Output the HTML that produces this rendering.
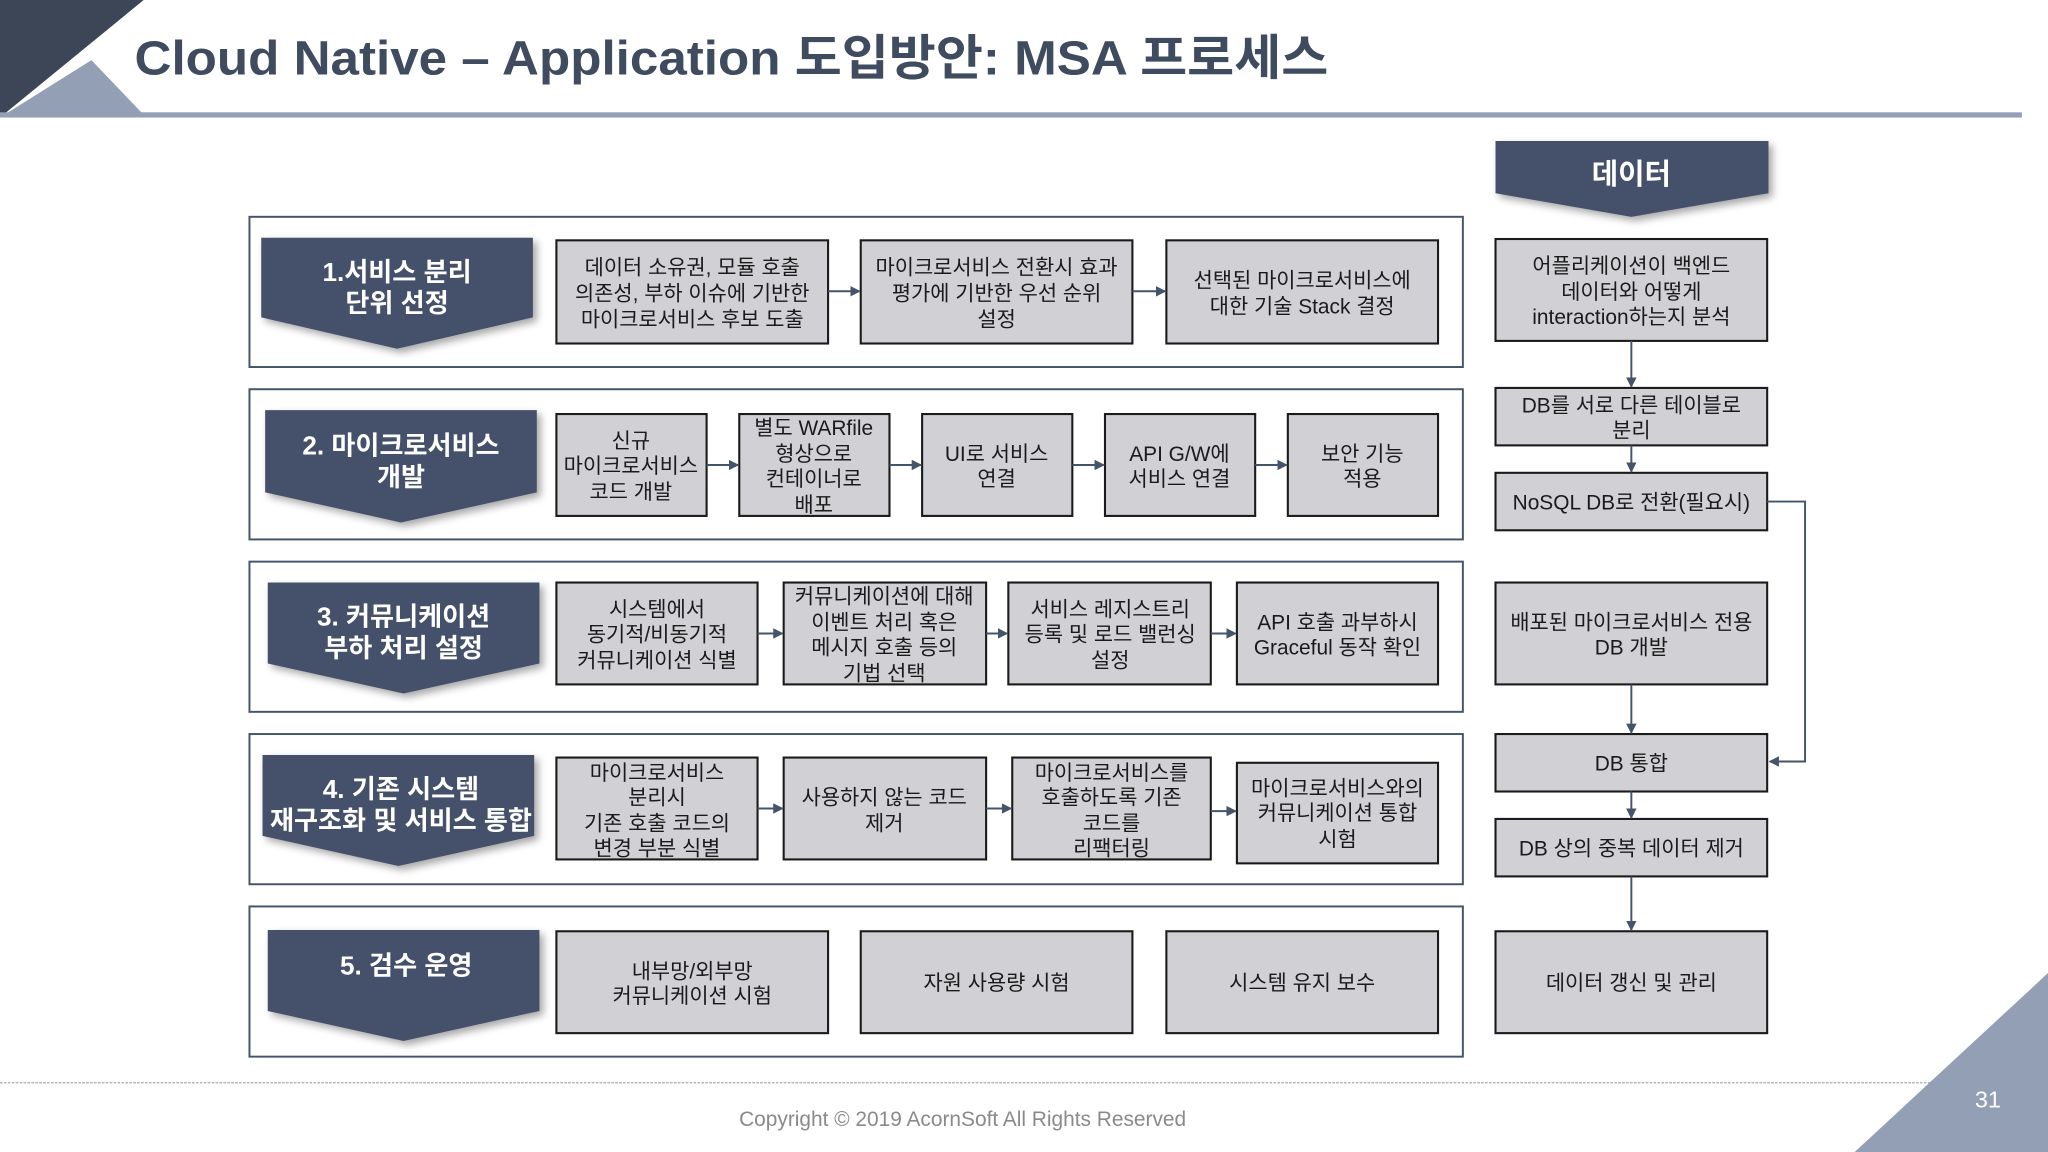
<!DOCTYPE html>
<html><head><meta charset="utf-8"><style>
html,body{margin:0;padding:0;background:#fff;width:2048px;height:1152px;overflow:hidden}
svg text{font-family:"Liberation Sans","Noto Sans CJK KR",sans-serif}
.b{fill:#d1d0d5;stroke:#1a1a1a;stroke-width:1.6}
.g{fill:#fff;stroke:#44546a;stroke-width:1.5}
.t{font-size:16px;fill:#1a1a1a;text-anchor:middle}
.h{font-size:20px;fill:#fff;font-weight:bold;text-anchor:middle}
.ar{stroke:#44546a;stroke-width:1.5;fill:none;marker-end:url(#a)}
.bn{fill:#44516a;filter:url(#s)}
</style></head><body>
<svg width="2048" height="1152" viewBox="0 0 1568 882" xmlns="http://www.w3.org/2000/svg">
<defs>
<marker id="a" markerWidth="8" markerHeight="8" refX="7" refY="4" orient="auto" markerUnits="userSpaceOnUse"><path d="M0,0 L8,4 L0,8z" fill="#44546a"/></marker>
<filter id="s" x="-10%" y="-10%" width="130%" height="140%"><feDropShadow dx="3" dy="3" stdDeviation="3" flood-color="#000" flood-opacity="0.35"/></filter>
</defs>
<polygon points="0,0 110,0 0,90" fill="#3d4656"/>
<polygon points="0,90 70,46 112,90" fill="#929fb5"/>
<rect x="0" y="86" width="1548" height="4" fill="#929fb5"/>
<text x="103" y="57" textLength="914" lengthAdjust="spacingAndGlyphs" style="font-size:37px;font-weight:bold;fill:#3f4b5f">Cloud Native – Application 도입방안: MSA 프로세스</text>

<!-- groups -->
<rect class="g" x="191" y="166" width="929" height="115"/>
<rect class="g" x="191" y="298" width="929" height="115"/>
<rect class="g" x="191" y="430" width="929" height="115"/>
<rect class="g" x="191" y="562" width="929" height="115"/>
<rect class="g" x="191" y="694" width="929" height="115"/>

<!-- banners -->
<polygon class="bn" points="200,182 408,182 408,243 304,267 200,243"/>
<text class="h"><tspan x="304" y="215">1.서비스 분리</tspan><tspan x="304" y="239">단위 선정</tspan></text>
<polygon class="bn" points="203,314 411,314 411,377 307,400 203,377"/>
<text class="h"><tspan x="307" y="348">2. 마이크로서비스</tspan><tspan x="307" y="372">개발</tspan></text>
<polygon class="bn" points="205,446 413,446 413,508 309,531 205,508"/>
<text class="h"><tspan x="309" y="479">3. 커뮤니케이션</tspan><tspan x="309" y="503">부하 처리 설정</tspan></text>
<polygon class="bn" points="201,578 409,578 409,640 305,663 201,640"/>
<text class="h"><tspan x="307" y="611">4. 기존 시스템</tspan><tspan x="307" y="635">재구조화 및 서비스 통합</tspan></text>
<polygon class="bn" points="205,712 413,712 413,774 309,797 205,774"/>
<text class="h"><tspan x="311" y="746">5. 검수 운영</tspan></text>

<!-- row1 -->
<rect class="b" x="426" y="184" width="208" height="79"/>
<text class="t"><tspan x="530" y="210">데이터 소유권, 모듈 호출</tspan><tspan x="530" y="230">의존성, 부하 이슈에 기반한</tspan><tspan x="530" y="250">마이크로서비스 후보 도출</tspan></text>
<rect class="b" x="659" y="184" width="208" height="79"/>
<text class="t"><tspan x="763" y="210">마이크로서비스 전환시 효과</tspan><tspan x="763" y="230">평가에 기반한 우선 순위</tspan><tspan x="763" y="250">설정</tspan></text>
<rect class="b" x="893" y="184" width="208" height="79"/>
<text class="t"><tspan x="997" y="220">선택된 마이크로서비스에</tspan><tspan x="997" y="240">대한 기술 Stack 결정</tspan></text>
<line class="ar" x1="634" y1="223" x2="658" y2="223"/>
<line class="ar" x1="867" y1="223" x2="892" y2="223"/>

<!-- row2 -->
<rect class="b" x="426" y="317" width="115" height="78"/>
<text class="t"><tspan x="483" y="343">신규</tspan><tspan x="483" y="362">마이크로서비스</tspan><tspan x="483" y="382">코드 개발</tspan></text>
<rect class="b" x="566" y="317" width="115" height="78"/>
<text class="t"><tspan x="623" y="333">별도 WARfile</tspan><tspan x="623" y="353">형상으로</tspan><tspan x="623" y="372">컨테이너로</tspan><tspan x="623" y="392">배포</tspan></text>
<rect class="b" x="706" y="317" width="115" height="78"/>
<text class="t"><tspan x="763" y="353">UI로 서비스</tspan><tspan x="763" y="372">연결</tspan></text>
<rect class="b" x="846" y="317" width="115" height="78"/>
<text class="t"><tspan x="903" y="353">API G/W에</tspan><tspan x="903" y="372">서비스 연결</tspan></text>
<rect class="b" x="986" y="317" width="115" height="78"/>
<text class="t"><tspan x="1043" y="353">보안 기능</tspan><tspan x="1043" y="372">적용</tspan></text>
<line class="ar" x1="541" y1="356" x2="565" y2="356"/>
<line class="ar" x1="681" y1="356" x2="705" y2="356"/>
<line class="ar" x1="821" y1="356" x2="845" y2="356"/>
<line class="ar" x1="961" y1="356" x2="985" y2="356"/>

<!-- row3 -->
<rect class="b" x="426" y="446" width="154" height="78"/>
<text class="t"><tspan x="503" y="472">시스템에서</tspan><tspan x="503" y="491">동기적/비동기적</tspan><tspan x="503" y="511">커뮤니케이션 식별</tspan></text>
<rect class="b" x="600" y="446" width="155" height="78"/>
<text class="t"><tspan x="677" y="462">커뮤니케이션에 대해</tspan><tspan x="677" y="482">이벤트 처리 혹은</tspan><tspan x="677" y="501">메시지 호출 등의</tspan><tspan x="677" y="521">기법 선택</tspan></text>
<rect class="b" x="772" y="446" width="155" height="78"/>
<text class="t"><tspan x="850" y="472">서비스 레지스트리</tspan><tspan x="850" y="491">등록 및 로드 밸런싱</tspan><tspan x="850" y="511">설정</tspan></text>
<rect class="b" x="947" y="446" width="154" height="78"/>
<text class="t"><tspan x="1024" y="482">API 호출 과부하시</tspan><tspan x="1024" y="501">Graceful 동작 확인</tspan></text>
<line class="ar" x1="580" y1="485" x2="599" y2="485"/>
<line class="ar" x1="755" y1="485" x2="771" y2="485"/>
<line class="ar" x1="927" y1="485" x2="946" y2="485"/>

<!-- row4 -->
<rect class="b" x="426" y="580" width="154" height="78"/>
<text class="t"><tspan x="503" y="597">마이크로서비스</tspan><tspan x="503" y="616">분리시</tspan><tspan x="503" y="636">기존 호출 코드의</tspan><tspan x="503" y="655">변경 부분 식별</tspan></text>
<rect class="b" x="600" y="580" width="155" height="78"/>
<text class="t"><tspan x="677" y="616">사용하지 않는 코드</tspan><tspan x="677" y="636">제거</tspan></text>
<rect class="b" x="775" y="580" width="152" height="78"/>
<text class="t"><tspan x="851" y="597">마이크로서비스를</tspan><tspan x="851" y="616">호출하도록 기존</tspan><tspan x="851" y="636">코드를</tspan><tspan x="851" y="655">리팩터링</tspan></text>
<rect class="b" x="947" y="584" width="154" height="77"/>
<text class="t"><tspan x="1024" y="609">마이크로서비스와의</tspan><tspan x="1024" y="628">커뮤니케이션 통합</tspan><tspan x="1024" y="648">시험</tspan></text>
<line class="ar" x1="580" y1="619" x2="599" y2="619"/>
<line class="ar" x1="755" y1="619" x2="774" y2="619"/>
<line class="ar" x1="927" y1="621" x2="946" y2="621"/>

<!-- row5 -->
<rect class="b" x="426" y="713" width="208" height="78"/>
<text class="t"><tspan x="530" y="749">내부망/외부망</tspan><tspan x="530" y="768">커뮤니케이션 시험</tspan></text>
<rect class="b" x="659" y="713" width="208" height="78"/>
<text class="t"><tspan x="763" y="758">자원 사용량 시험</tspan></text>
<rect class="b" x="893" y="713" width="208" height="78"/>
<text class="t"><tspan x="997" y="758">시스템 유지 보수</tspan></text>

<!-- right column -->
<polygon class="bn" points="1145,108 1354,108 1354,148 1249,166 1145,148"/>
<text class="h" x="1249" y="141" style="font-size:22px">데이터</text>
<rect class="b" x="1145" y="183" width="208" height="78"/>
<text class="t"><tspan x="1249" y="209">어플리케이션이 백엔드</tspan><tspan x="1249" y="229">데이터와 어떻게</tspan><tspan x="1249" y="248">interaction하는지 분석</tspan></text>
<rect class="b" x="1145" y="297" width="208" height="44"/>
<text class="t"><tspan x="1249" y="316">DB를 서로 다른 테이블로</tspan><tspan x="1249" y="335">분리</tspan></text>
<rect class="b" x="1145" y="362" width="208" height="44"/>
<text class="t" x="1249" y="390">NoSQL DB로 전환(필요시)</text>
<rect class="b" x="1145" y="446" width="208" height="78"/>
<text class="t"><tspan x="1249" y="482">배포된 마이크로서비스 전용</tspan><tspan x="1249" y="501">DB 개발</tspan></text>
<rect class="b" x="1145" y="562" width="208" height="44"/>
<text class="t" x="1249" y="590">DB 통합</text>
<rect class="b" x="1145" y="627" width="208" height="44"/>
<text class="t" x="1249" y="655">DB 상의 중복 데이터 제거</text>
<rect class="b" x="1145" y="713" width="208" height="78"/>
<text class="t" x="1249" y="758">데이터 갱신 및 관리</text>
<line class="ar" x1="1249" y1="261" x2="1249" y2="296"/>
<line class="ar" x1="1249" y1="341" x2="1249" y2="361"/>
<line class="ar" x1="1249" y1="524" x2="1249" y2="561"/>
<line class="ar" x1="1249" y1="606" x2="1249" y2="626"/>
<line class="ar" x1="1249" y1="671" x2="1249" y2="712"/>
<polyline class="ar" points="1353,384 1382,384 1382,583 1355,583"/>

<!-- footer -->
<line x1="0" y1="829" x2="1568" y2="829" stroke="#aaa" stroke-width="1" stroke-dasharray="2,1"/>
<text x="737" y="862" style="font-size:16px;fill:#8a8a8a;text-anchor:middle">Copyright © 2019 AcornSoft All Rights Reserved</text>
<polygon points="1568,745 1568,882 1420,882" fill="#929fb5"/>
<text x="1522" y="848" style="font-size:18px;fill:#fff;text-anchor:middle">31</text>
</svg>
</body></html>
